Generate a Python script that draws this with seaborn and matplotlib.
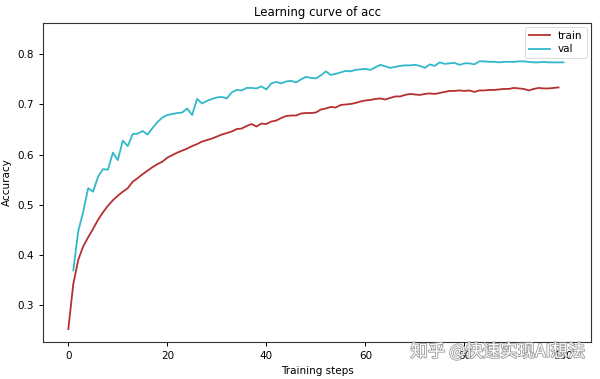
import numpy as np
import pandas as pd
import matplotlib
matplotlib.use("Agg")
import matplotlib.pyplot as plt
import matplotlib.patheffects as pe
import seaborn as sns

train_steps = list(range(0, 100))
train_acc = [0.252, 0.342, 0.390, 0.417, 0.435, 0.452, 0.470, 0.485, 0.498, 0.509,
             0.518, 0.526, 0.533, 0.546, 0.553, 0.561, 0.568, 0.575, 0.581, 0.586,
             0.594, 0.599, 0.604, 0.608, 0.612, 0.617, 0.621, 0.626, 0.629, 0.632,
             0.636, 0.640, 0.643, 0.646, 0.651, 0.652, 0.657, 0.661, 0.656, 0.662,
             0.661, 0.666, 0.668, 0.673, 0.677, 0.678, 0.678, 0.682, 0.683, 0.683,
             0.684, 0.690, 0.692, 0.695, 0.694, 0.699, 0.700, 0.701, 0.703, 0.706,
             0.708, 0.709, 0.711, 0.712, 0.710, 0.713, 0.716, 0.716, 0.719, 0.721,
             0.720, 0.719, 0.721, 0.722, 0.721, 0.723, 0.725, 0.727, 0.727, 0.728,
             0.727, 0.728, 0.725, 0.728, 0.728, 0.729, 0.729, 0.730, 0.731, 0.731,
             0.733, 0.732, 0.731, 0.728, 0.731, 0.733, 0.732, 0.732, 0.733, 0.734]

val_steps = list(range(1, 101))
val_acc = [0.369, 0.447, 0.486, 0.533, 0.526, 0.556, 0.571, 0.570, 0.604, 0.589,
           0.628, 0.617, 0.641, 0.642, 0.647, 0.640, 0.653, 0.665, 0.674, 0.679,
           0.681, 0.683, 0.684, 0.692, 0.679, 0.711, 0.702, 0.707, 0.711, 0.714,
           0.715, 0.712, 0.724, 0.729, 0.728, 0.733, 0.733, 0.732, 0.736, 0.730,
           0.742, 0.745, 0.742, 0.746, 0.747, 0.744, 0.750, 0.755, 0.753, 0.752,
           0.758, 0.766, 0.759, 0.761, 0.764, 0.767, 0.766, 0.769, 0.770, 0.771,
           0.769, 0.774, 0.779, 0.776, 0.773, 0.775, 0.777, 0.778, 0.778, 0.779,
           0.777, 0.773, 0.780, 0.777, 0.784, 0.781, 0.782, 0.783, 0.779, 0.782,
           0.782, 0.780, 0.786, 0.786, 0.785, 0.785, 0.784, 0.785, 0.785, 0.785,
           0.786, 0.786, 0.785, 0.784, 0.784, 0.785, 0.784, 0.784, 0.784, 0.784]

series_names = ["train", "val"]
colors = {"train": "#b5302f", "val": "#30b9ca"}

df = pd.concat([
    pd.DataFrame({"step": train_steps, "acc": train_acc, "set": "train"}),
    pd.DataFrame({"step": val_steps, "acc": val_acc, "set": "val"}),
], ignore_index=True)

plt.rcParams["font.family"] = ["DejaVu Sans"]
fig = plt.figure(figsize=(6.0, 3.79), dpi=100)
ax = fig.add_axes([0.0722, 0.0968, 0.9123, 0.8432])

sns.lineplot(data=df, x="step", y="acc", hue="set", hue_order=series_names,
             palette=colors, linewidth=1.3, ax=ax)

ax.set_xlim(-5.05, 105.5)
ax.set_ylim(0.2257, 0.863)
ax.set_xticks([0, 20, 40, 60, 80, 100])
ax.set_yticks([0.3, 0.4, 0.5, 0.6, 0.7, 0.8])
ax.tick_params(labelsize=7.5, length=3, width=0.7)
for s in ax.spines.values():
    s.set_linewidth(0.8)
    s.set_color("#333333")

ax.set_title("Learning curve of acc", fontsize=8.5, pad=5)
ax.set_xlabel("Training steps", fontsize=7.5, labelpad=3)
ax.set_ylabel("Accuracy", fontsize=7.5, labelpad=4)

leg = ax.legend(loc="upper right", fontsize=7.5, frameon=True, handlelength=2.0,
                borderpad=0.4, labelspacing=0.3, borderaxespad=0.4, fancybox=True)
leg.get_frame().set_linewidth(0.6)
leg.get_frame().set_edgecolor("#cccccc")

fig.text(0.83, 0.072, "知乎 @快速实现AI想法", fontsize=12.5, ha="center", va="center",
         color="white", family=["Noto Sans CJK SC", "DejaVu Sans"],
         path_effects=[pe.withStroke(linewidth=1.2, foreground="#9a9a9a")])

fig.savefig("out.png", dpi=100)
